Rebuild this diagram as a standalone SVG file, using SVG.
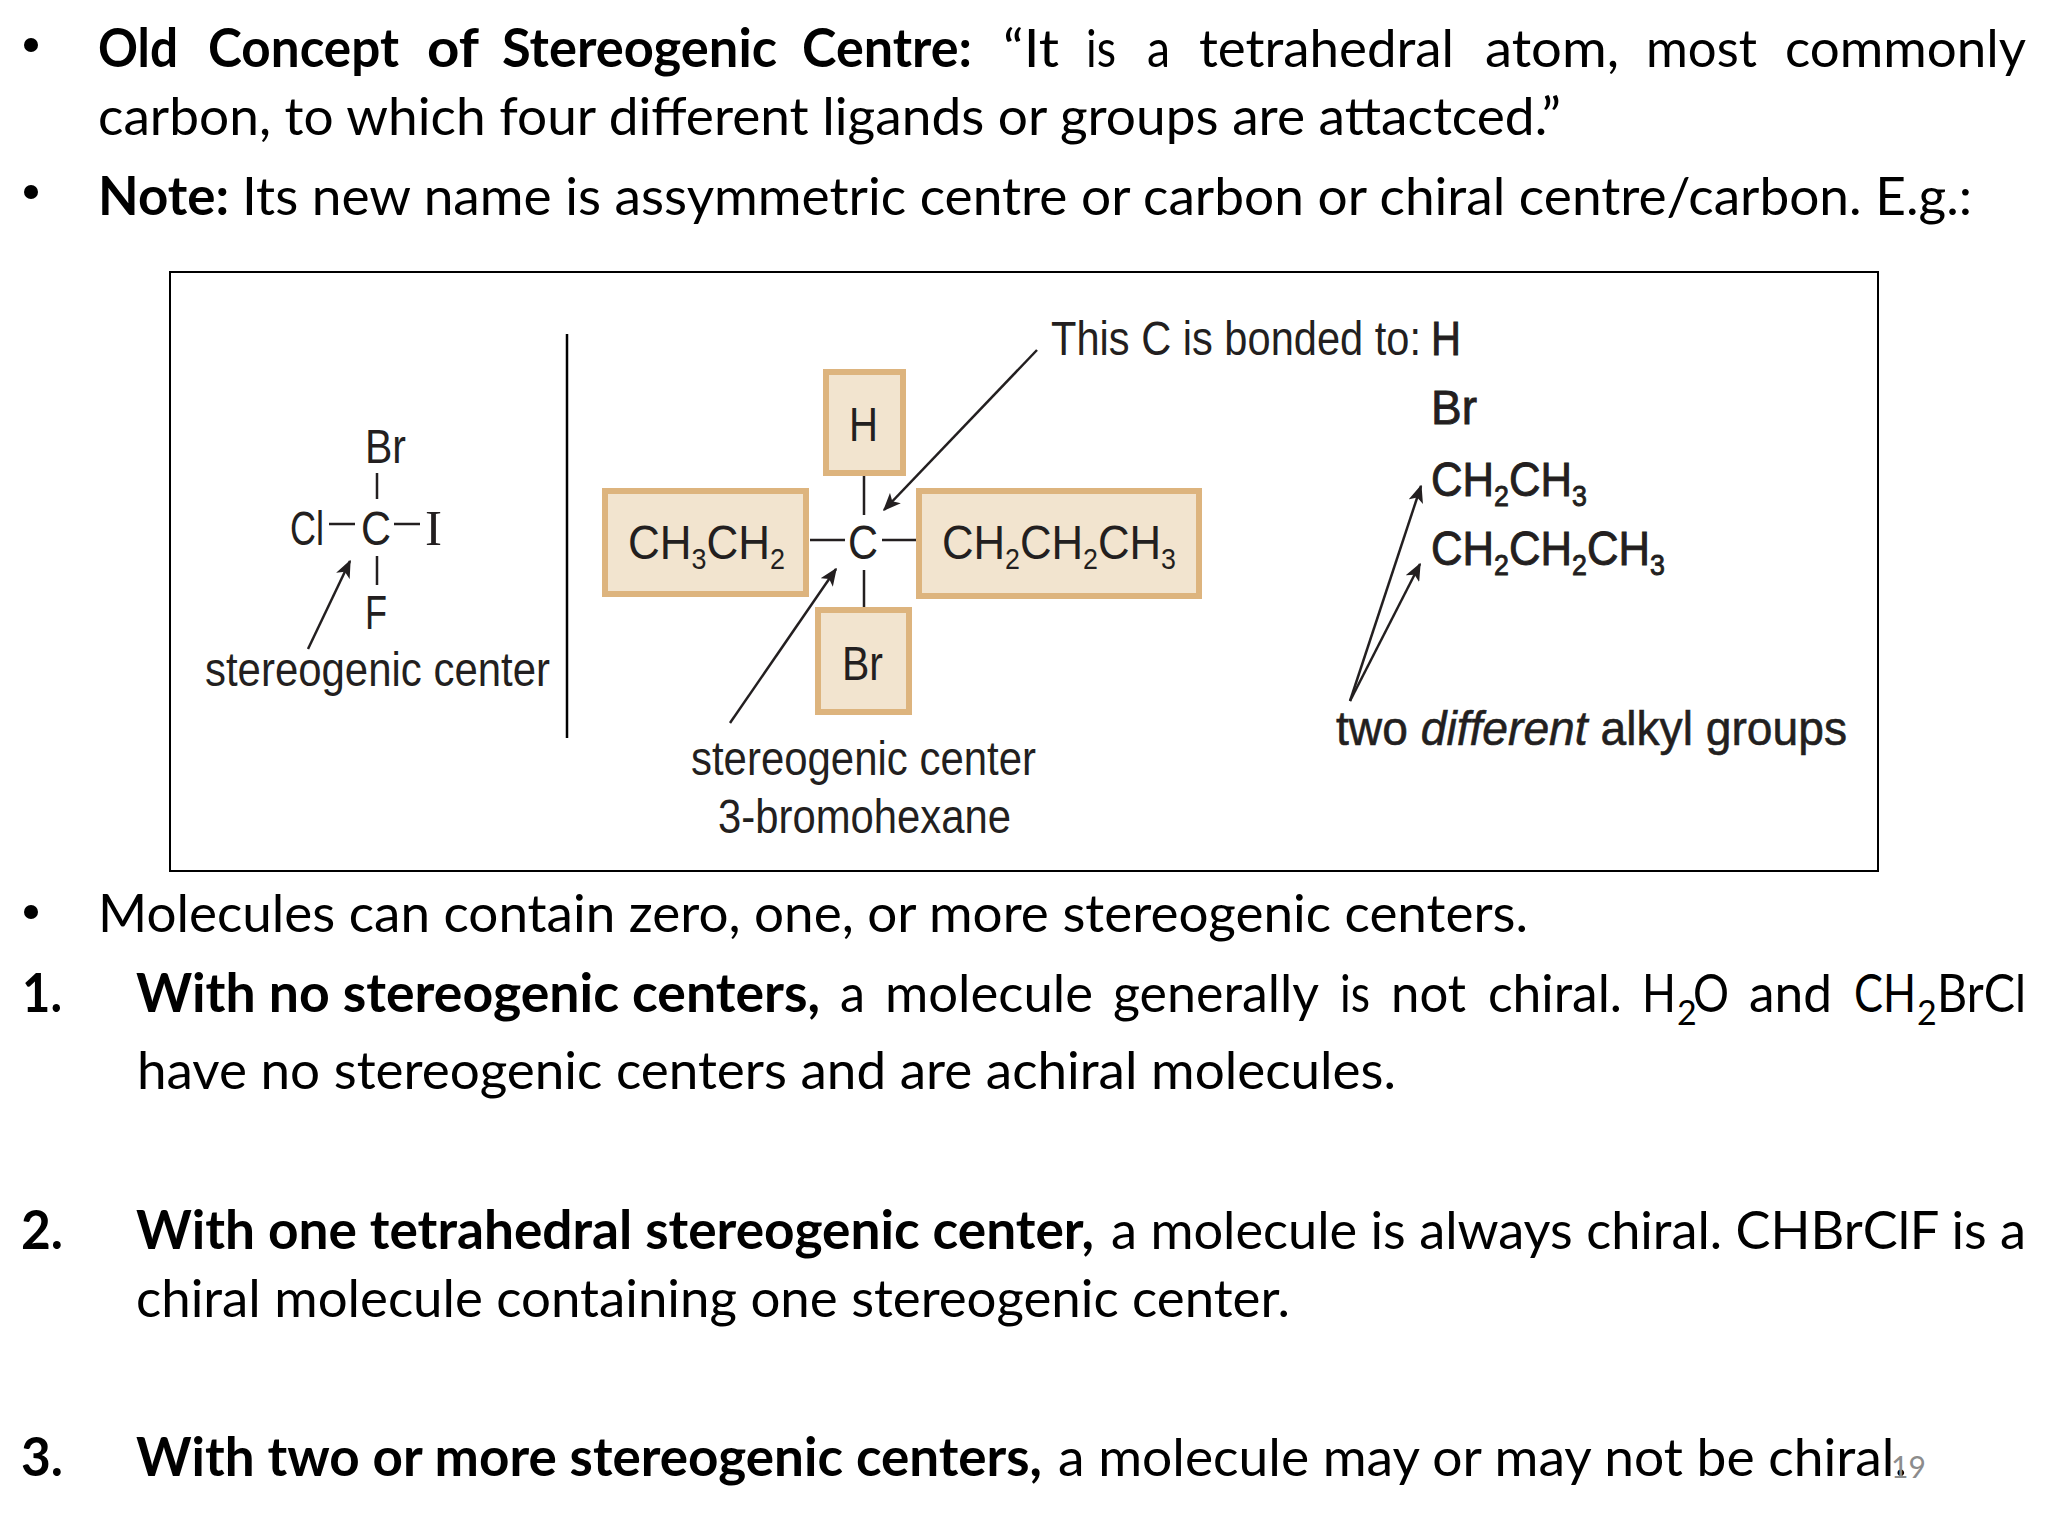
<svg xmlns="http://www.w3.org/2000/svg" width="2048" height="1536" viewBox="0 0 2048 1536">
<defs>
<marker id="ah" viewBox="0 0 12 10" refX="11" refY="5" markerWidth="18" markerHeight="15" markerUnits="userSpaceOnUse" orient="auto"><path d="M0 0L12 5L0 10L3 5Z" fill="#231f20"/></marker>
</defs>
<style>
.b{font-family:Lato,"Open Sans",sans-serif;font-size:53px;fill:#000}
.s{font-weight:700}
.f{font-family:"Liberation Sans",Arial,sans-serif;font-size:49px;fill:#231f20}
.fb{stroke:#231f20;stroke-width:.9}
.box{fill:#f2e4cf;stroke:#ddb47e;stroke-width:6}
.l{stroke:#231f20;stroke-width:2.5;fill:none}
.a{stroke:#231f20;stroke-width:2.5;fill:none;marker-end:url(#ah)}
.bullet{fill:#000}
</style>
<rect width="2048" height="1536" fill="#fff"/>
<g id="text-top">
<circle class="bullet" cx="31" cy="45" r="7"/>
<text class="b s" y="67"><tspan x="98" textLength="80" lengthAdjust="spacingAndGlyphs">Old</tspan><tspan x="208" textLength="191" lengthAdjust="spacingAndGlyphs">Concept</tspan><tspan x="427" textLength="52" lengthAdjust="spacingAndGlyphs">of</tspan><tspan x="502" textLength="275" lengthAdjust="spacingAndGlyphs">Stereogenic</tspan><tspan x="802" textLength="170" lengthAdjust="spacingAndGlyphs">Centre:</tspan></text>
<text class="b" y="67"><tspan x="1003" textLength="56" lengthAdjust="spacingAndGlyphs">“It</tspan><tspan x="1086" textLength="30" lengthAdjust="spacingAndGlyphs">is</tspan><tspan x="1147" textLength="23" lengthAdjust="spacingAndGlyphs">a</tspan><tspan x="1199" textLength="255" lengthAdjust="spacingAndGlyphs">tetrahedral</tspan><tspan x="1485" textLength="134" lengthAdjust="spacingAndGlyphs">atom,</tspan><tspan x="1646" textLength="111" lengthAdjust="spacingAndGlyphs">most</tspan><tspan x="1785" textLength="241" lengthAdjust="spacingAndGlyphs">commonly</tspan></text>
<text class="b" x="98" y="135" textLength="1463" lengthAdjust="spacingAndGlyphs">carbon, to which four different ligands or groups are attactced.”</text>
<circle class="bullet" cx="31" cy="192" r="7"/>
<text class="b s" x="98" y="215" textLength="131" lengthAdjust="spacingAndGlyphs">Note:</text>
<text class="b" x="242" y="215" textLength="1730" lengthAdjust="spacingAndGlyphs">Its new name is assymmetric centre or carbon or chiral centre/carbon. E.g.:</text>
</g>
<g id="figure">
<rect x="170" y="272" width="1708" height="599" fill="#fff" stroke="#000" stroke-width="2"/>
<line x1="567" y1="334" x2="567" y2="738" stroke="#000" stroke-width="2.5"/>
</g>
<g id="connectors">
<path class="l" d="M377 473V499M377 556V585M329 524H355M394 524H420M864 473V515M864 570V610M810 540H845M882 540H917"/>
<path class="a" d="M308 649L350 561"/>
<path class="a" d="M730 723L836 569"/>
<path class="a" d="M1037 350L884 510"/>
<path class="a" d="M1350 701L1421 486"/>
<path class="a" d="M1350 701L1420 564"/>
</g>
<g id="node-left">
<text class="f" x="365" y="463" textLength="41" lengthAdjust="spacingAndGlyphs">Br</text>
<text class="f" x="290" y="545" textLength="34" lengthAdjust="spacingAndGlyphs">Cl</text>
<text class="f" x="361" y="545" textLength="30" lengthAdjust="spacingAndGlyphs">C</text>
<text x="425" y="545" font-family="'Liberation Serif',serif" font-size="50" fill="#231f20" textLength="17" lengthAdjust="spacingAndGlyphs">I</text>
<text class="f" x="365" y="629" textLength="22" lengthAdjust="spacingAndGlyphs">F</text>
<text class="f" x="205" y="686" textLength="345" lengthAdjust="spacingAndGlyphs">stereogenic center</text>
</g>
<g id="node-h"><rect class="box" x="826" y="372" width="77" height="101"/><text class="f" x="849" y="441" textLength="29" lengthAdjust="spacingAndGlyphs">H</text></g>
<g id="node-ch3ch2"><rect class="box" x="605" y="491" width="201" height="103"/><text class="f" x="628" y="559" textLength="157" lengthAdjust="spacingAndGlyphs">CH<tspan font-size="30" dy="10">3</tspan><tspan dy="-10">CH</tspan><tspan font-size="30" dy="10">2</tspan></text></g>
<g id="node-c"><text class="f" x="848" y="559" textLength="30" lengthAdjust="spacingAndGlyphs">C</text></g>
<g id="node-ch2ch2ch3"><rect class="box" x="919" y="491" width="280" height="105"/><text class="f" x="942" y="559" textLength="234" lengthAdjust="spacingAndGlyphs">CH<tspan font-size="30" dy="10">2</tspan><tspan dy="-10">CH</tspan><tspan font-size="30" dy="10">2</tspan><tspan dy="-10">CH</tspan><tspan font-size="30" dy="10">3</tspan></text></g>
<g id="node-br"><rect class="box" x="818" y="610" width="91" height="102"/><text class="f" x="842" y="680" textLength="41" lengthAdjust="spacingAndGlyphs">Br</text></g>
<g id="labels">
<text class="f" x="691" y="775" textLength="345" lengthAdjust="spacingAndGlyphs">stereogenic center</text>
<text class="f" x="718" y="833" textLength="293" lengthAdjust="spacingAndGlyphs">3-bromohexane</text>
<text class="f" x="1051" y="355" textLength="370" lengthAdjust="spacingAndGlyphs">This C is bonded to:</text>
<text class="f fb" x="1431" y="355" textLength="30" lengthAdjust="spacingAndGlyphs">H</text>
<text class="f fb" x="1431" y="424" textLength="46" lengthAdjust="spacingAndGlyphs">Br</text>
<text class="f fb" x="1431" y="496" textLength="156" lengthAdjust="spacingAndGlyphs">CH<tspan font-size="30" dy="10">2</tspan><tspan dy="-10">CH</tspan><tspan font-size="30" dy="10">3</tspan></text>
<text class="f fb" x="1431" y="565" textLength="234" lengthAdjust="spacingAndGlyphs">CH<tspan font-size="30" dy="10">2</tspan><tspan dy="-10">CH</tspan><tspan font-size="30" dy="10">2</tspan><tspan dy="-10">CH</tspan><tspan font-size="30" dy="10">3</tspan></text>
<text class="f" x="1336" y="745" textLength="511" lengthAdjust="spacingAndGlyphs" style="stroke:#231f20;stroke-width:.6">two <tspan font-style="italic">different</tspan> alkyl groups</text>
</g>
<g id="text-bottom">
<circle class="bullet" cx="31" cy="912" r="7"/>
<text class="b" x="98" y="932" textLength="1430" lengthAdjust="spacingAndGlyphs">Molecules can contain zero, one, or more stereogenic centers.</text>
<text class="b s" x="22" y="1012" textLength="40" lengthAdjust="spacingAndGlyphs">1.</text>
<text class="b s" x="136" y="1012" textLength="684" lengthAdjust="spacingAndGlyphs">With no stereogenic centers,</text>
<text class="b" y="1012"><tspan x="840" textLength="25" lengthAdjust="spacingAndGlyphs">a</tspan><tspan x="885" textLength="208" lengthAdjust="spacingAndGlyphs">molecule</tspan><tspan x="1113" textLength="206" lengthAdjust="spacingAndGlyphs">generally</tspan><tspan x="1340" textLength="30" lengthAdjust="spacingAndGlyphs">is</tspan><tspan x="1391" textLength="75" lengthAdjust="spacingAndGlyphs">not</tspan><tspan x="1488" textLength="134" lengthAdjust="spacingAndGlyphs">chiral.</tspan></text>
<text class="b" y="1012"><tspan x="1642" textLength="34" lengthAdjust="spacingAndGlyphs">H</tspan><tspan x="1677" y="1025" font-size="34">2</tspan><tspan x="1693" y="1012" textLength="36" lengthAdjust="spacingAndGlyphs">O</tspan><tspan x="1749" y="1012" textLength="83" lengthAdjust="spacingAndGlyphs">and</tspan><tspan x="1854" y="1012" textLength="62" lengthAdjust="spacingAndGlyphs">CH</tspan><tspan x="1917" y="1025" font-size="34">2</tspan><tspan x="1937" y="1012" textLength="89" lengthAdjust="spacingAndGlyphs">BrCl</tspan></text>
<text class="b" x="137" y="1089" textLength="1259" lengthAdjust="spacingAndGlyphs">have no stereogenic centers and are achiral molecules.</text>
<text class="b s" x="21" y="1249" textLength="42" lengthAdjust="spacingAndGlyphs">2.</text>
<text class="b s" x="136" y="1249" textLength="958" lengthAdjust="spacingAndGlyphs">With one tetrahedral stereogenic center,</text>
<text class="b" x="1111" y="1249" textLength="915" lengthAdjust="spacingAndGlyphs">a molecule is always chiral. CHBrClF is a</text>
<text class="b" x="136" y="1317" textLength="1154" lengthAdjust="spacingAndGlyphs">chiral molecule containing one stereogenic center.</text>
<text class="b s" x="21" y="1476" textLength="42" lengthAdjust="spacingAndGlyphs">3.</text>
<text class="b s" x="136" y="1476" textLength="906" lengthAdjust="spacingAndGlyphs">With two or more stereogenic centers,</text>
<text class="b" x="1058" y="1476" textLength="849" lengthAdjust="spacingAndGlyphs">a molecule may or may not be chiral.</text>
<text x="1891" y="1478" font-family="Lato,sans-serif" font-size="30" fill="#8c8c8c">19</text>
</g>
</svg>
